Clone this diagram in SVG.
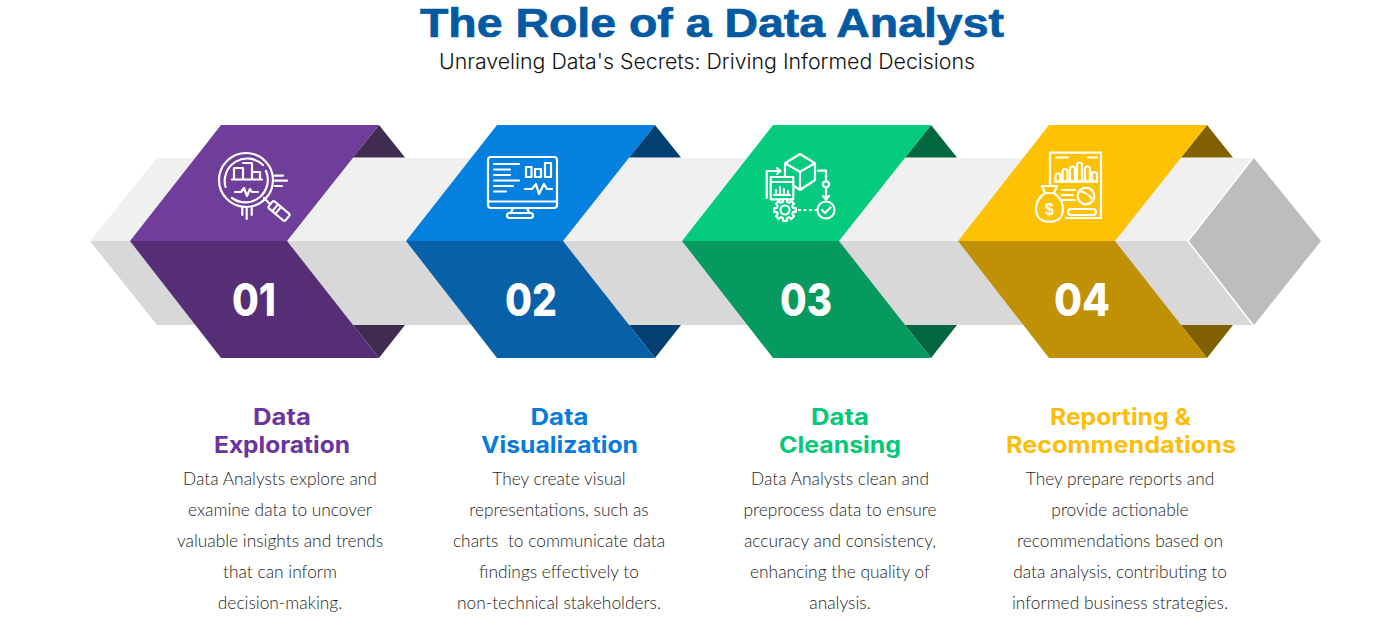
<svg xmlns="http://www.w3.org/2000/svg" width="1400" height="629" viewBox="0 0 1400 629">
<style>
.t{font-family:"Liberation Sans",Arial,sans-serif;font-weight:700;text-anchor:middle;stroke:#0459a3;stroke-width:.7}
.h{font-family:"Inter","Liberation Sans",sans-serif;font-weight:700;font-size:23px;text-anchor:middle}
.b{font-family:"Lato","Liberation Sans",sans-serif;font-weight:300;font-size:17.35px;fill:#1e1e1e;text-anchor:middle}
.n{font-family:"Inter","Liberation Sans",sans-serif;font-weight:800;font-size:45px;fill:#fff;text-anchor:middle}
.i{fill:none;stroke:#fff;stroke-width:2.2;stroke-linecap:round;stroke-linejoin:round}
.lt{fill:#f0f0f0}.dk{fill:#d8d8d8}
</style>
<defs>
<g id="arrowTop"><polygon points="0,116 91,0 249,0 157,116"/></g>
<g id="arrowBottom"><polygon points="0,116 157,116 249,233 91,233"/></g>
<g id="ears"><polygon points="249,0 275,32.500 223,32.500"/><polygon points="223,200 275,200 249,233"/></g>
</defs>
<text class="t" x="712" y="36.500" font-size="40" fill="#0459a3" textLength="584" lengthAdjust="spacingAndGlyphs">The Role of a Data Analyst</text>
<text x="707" y="69" font-family="Inter,'Liberation Sans',sans-serif" font-weight="300" font-size="21" fill="#111" text-anchor="middle" textLength="536" lengthAdjust="spacingAndGlyphs">Unraveling Data's Secrets: Driving Informed Decisions</text>

<g id="band">
<polygon class="lt" points="90,241 157,158 1253,158 1188,241"/>
<polygon class="dk" points="90,241 1188,241 1253,325 157,325"/>
<polyline points="1253,158 1188,241 1253,325" fill="none" stroke="#fff" stroke-width="1.500"/>
<polygon fill="#bdbdbd" points="1254,158 1321,241 1254,325 1189,241"/>
</g>

<g id="node-1">
<g transform="translate(130,125)"><use href="#ears" fill="#3f2c50"/><use href="#arrowTop" fill="#6f3e9a"/><use href="#arrowBottom" fill="#552e76"/></g>
<g class="i">
<circle cx="246" cy="180" r="27"/><path d="M225.500 187A22.500 22.500 0 0 1 263 165M266 171A22.500 22.500 0 0 1 232 198"/>
<path d="M232 179.500H262M234 179.500V168H243V179.500M243 163H252V179.500M252 172H260V179.500M235 192H241L244 188L247 196L250 189L252 192H258"/>
<path d="M275 175.700H283M275 180.700H287M275 186H282M242.300 208V215M246.700 208V219M251.700 208V215M264 198L270 204"/>
<g transform="translate(279,211) rotate(40)"><rect x="-11" y="-4.500" width="22" height="9" rx="2"/><path d="M-5-4.500V4.500M-1-4.500V4.500"/></g>
</g>
<text class="n" x="254" y="316" textLength="44" lengthAdjust="spacingAndGlyphs">01</text>
<text class="h" x="282" y="425" fill="#6a359c" textLength="58" lengthAdjust="spacingAndGlyphs">Data</text>
<text class="h" x="282" y="453" fill="#6a359c" textLength="136" lengthAdjust="spacingAndGlyphs">Exploration</text>
<text class="b" x="280" y="485">Data Analysts explore and</text>
<text class="b" x="280" y="516">examine data to uncover</text>
<text class="b" x="280" y="547">valuable insights and trends</text>
<text class="b" x="280" y="578">that can inform</text>
<text class="b" x="280" y="609">decision-making.</text>
</g>

<g id="node-2">
<g transform="translate(406,125)"><use href="#ears" fill="#033f70"/><use href="#arrowTop" fill="#0580de"/><use href="#arrowBottom" fill="#0860a8"/></g>
<g class="i">
<rect x="488" y="157" width="69" height="51" rx="3"/>
<path d="M488 201.500H557M513 208L511 213M527 208L529 213"/><rect x="507" y="213" width="26" height="5" rx="2.500"/>
<path d="M494 164H519M494 169.500H510M494 175H510M494 180.500H519M494 186H513M494 191.500H506"/>
<rect x="526" y="167" width="5.500" height="10"/><rect x="535" y="169" width="6" height="8"/><rect x="545" y="163" width="6" height="14"/>
<path d="M525 189H532L536 184L539 194L544 184L547 189H552"/>
</g>
<text class="n" x="531" y="316" textLength="52" lengthAdjust="spacingAndGlyphs">02</text>
<text class="h" x="559.500" y="425" fill="#0a7bdc" textLength="58" lengthAdjust="spacingAndGlyphs">Data</text>
<text class="h" x="559.500" y="453" fill="#0a7bdc" textLength="157" lengthAdjust="spacingAndGlyphs">Visualization</text>
<text class="b" x="559" y="485">They create visual</text>
<text class="b" x="559" y="516">representations, such as</text>
<text class="b" x="559" y="547" xml:space="preserve">charts  to communicate data</text>
<text class="b" x="559" y="578">findings effectively to</text>
<text class="b" x="559" y="609">non-technical stakeholders.</text>
</g>

<g id="node-3">
<g transform="translate(682,125)"><use href="#ears" fill="#02663f"/><use href="#arrowTop" fill="#05cb7f"/><use href="#arrowBottom" fill="#069a60"/></g>
<g class="i">
<path d="M800 154L815 163.300V180L800 190L785 180V163.300ZM785 163.300L800 171.700L815 163.300M800 171.700V190"/>
<rect x="770.700" y="177" width="22.600" height="22.300" fill="#05cb7f"/><path d="M770.700 182H793.300M774 195H790M776 195V190M780 195V187M784 195V189M788 195V191"/>
<path d="M766.700 198V171H780M777 168L780.500 171L777 174"/>
<polygon fill="#05cb7f" transform="translate(785,210)" points="8.020,-2.150 10.830,-1.910 10.830,1.910 8.020,2.150 7.190,4.150 9.010,6.310 6.310,9.010 4.150,7.190 2.150,8.020 1.910,10.830 -1.910,10.830 -2.150,8.020 -4.150,7.190 -6.310,9.010 -9.010,6.310 -7.190,4.150 -8.020,2.150 -10.830,1.910 -10.830,-1.910 -8.020,-2.150 -7.190,-4.150 -9.010,-6.310 -6.310,-9.010 -4.150,-7.190 -2.150,-8.020 -1.910,-10.830 1.910,-10.830 2.150,-8.020 4.150,-7.190 6.310,-9.010 9.010,-6.310 7.190,-4.150"/>
<circle cx="785" cy="210" r="4.500"/>
<path d="M798 210H817" stroke-dasharray="3 2.500" stroke-linecap="butt"/>
<circle cx="826" cy="210" r="8.500"/><path d="M822 210L825 213L830.500 207.500"/>
<path d="M818 170.700H826V181M826 187.500V199M823 196L826 199.500L829 196"/><circle cx="826" cy="184.300" r="3"/>
</g>
<text class="n" x="806" y="316" textLength="52" lengthAdjust="spacingAndGlyphs">03</text>
<text class="h" x="840" y="425" fill="#05c878" textLength="58" lengthAdjust="spacingAndGlyphs">Data</text>
<text class="h" x="840" y="453" fill="#05c878" textLength="122" lengthAdjust="spacingAndGlyphs">Cleansing</text>
<text class="b" x="840" y="485">Data Analysts clean and</text>
<text class="b" x="840" y="516">preprocess data to ensure</text>
<text class="b" x="840" y="547">accuracy and consistency,</text>
<text class="b" x="840" y="578">enhancing the quality of</text>
<text class="b" x="840" y="609">analysis.</text>
</g>

<g id="node-4">
<g transform="translate(958,125)"><use href="#ears" fill="#806000"/><use href="#arrowTop" fill="#fec205"/><use href="#arrowBottom" fill="#c09005"/></g>
<g class="i">
<path d="M1050 184V152.700H1101V218H1066"/>
<path d="M1056 157.500H1068M1088 157.500H1097M1055 181.700H1097"/>
<rect x="1055.500" y="173.500" width="5" height="8" rx="2.500"/><rect x="1062.500" y="169" width="5" height="12.700" rx="2.500"/><rect x="1070" y="166.500" width="5" height="15.200" rx="2.500"/><rect x="1077" y="162.500" width="5" height="19.200" rx="2.500"/><rect x="1085" y="166.500" width="5" height="15.200" rx="2.500"/><rect x="1092" y="172" width="5" height="9.700" rx="2.500"/>
<path d="M1062 190H1075M1062 195H1073M1062 200H1075"/>
<circle cx="1086" cy="196" r="8.300"/><path d="M1079 191Q1087 192 1093 200"/>
<rect x="1068" y="209" width="28" height="6" rx="3"/>
<path d="M1045 193C1038 198 1036 204 1036 209C1036 217 1041 221.700 1049.500 221.700C1058 221.700 1063 217 1063 209C1063 204 1061 198 1054 193ZM1045 193L1042 186H1057L1054 193"/>
</g>
<text x="1049.500" y="215" font-family="'Liberation Sans',sans-serif" font-weight="700" font-size="16" fill="#fff" text-anchor="middle">$</text>
<text class="n" x="1082" y="316" textLength="56" lengthAdjust="spacingAndGlyphs">04</text>
<text class="h" x="1120.500" y="425" fill="#fdbd0a" textLength="141" lengthAdjust="spacingAndGlyphs">Reporting &amp;</text>
<text class="h" x="1121" y="453" fill="#fdbd0a" textLength="230" lengthAdjust="spacingAndGlyphs">Recommendations</text>
<text class="b" x="1120" y="485">They prepare reports and</text>
<text class="b" x="1120" y="516">provide actionable</text>
<text class="b" x="1120" y="547">recommendations based on</text>
<text class="b" x="1120" y="578">data analysis, contributing to</text>
<text class="b" x="1120" y="609">informed business strategies.</text>
</g>
<g id="connectors"/>
</svg>
